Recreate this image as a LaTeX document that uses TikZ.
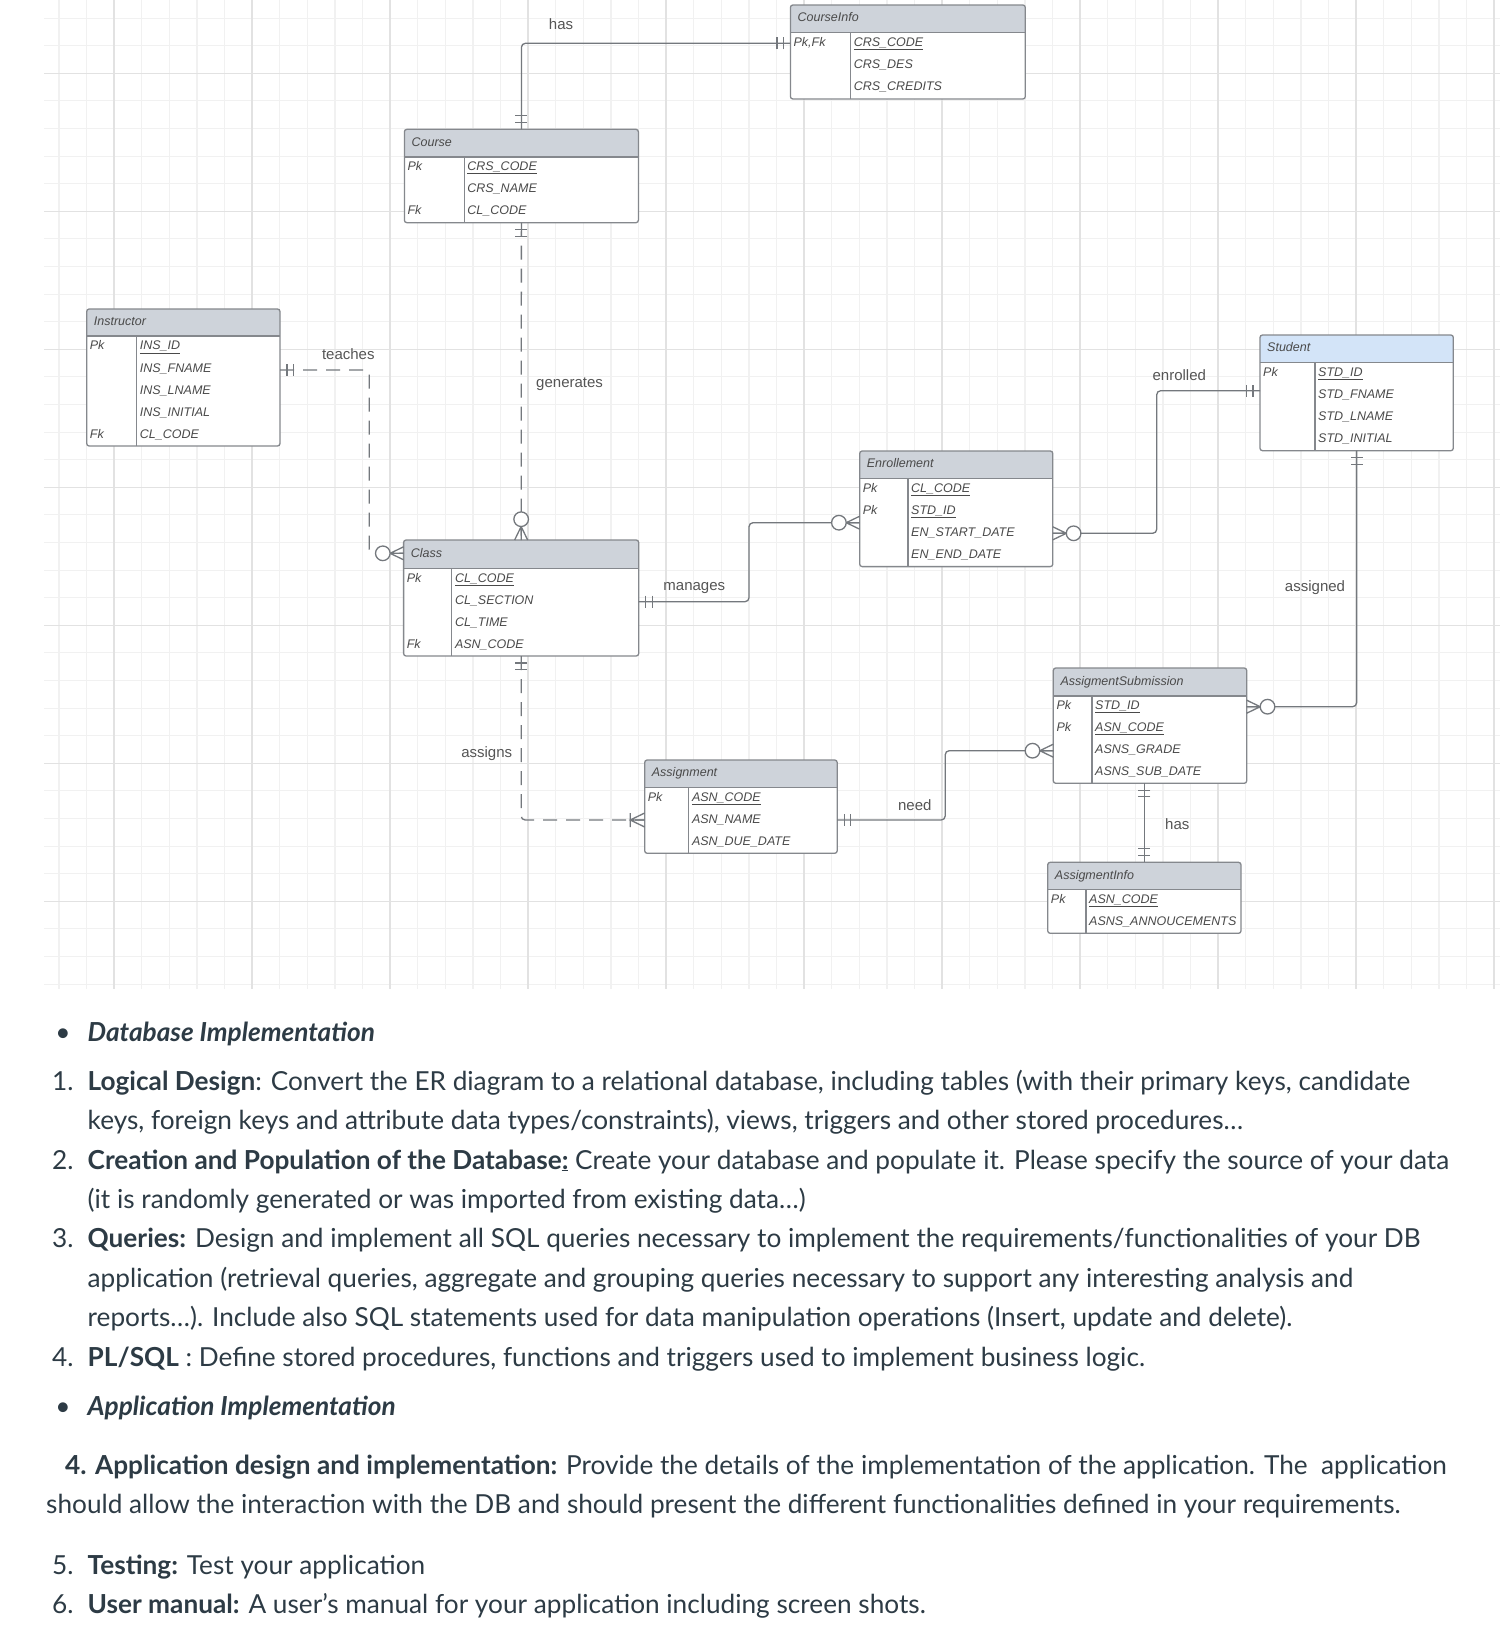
\documentclass[tikz,border=0pt]{standalone}
\usepackage{fontspec}
\setmainfont{Lato}
\newfontfamily\erfont{Liberation Sans}
\usetikzlibrary{fit}

\definecolor{gridlight}{HTML}{F1F1F1}
\definecolor{griddark}{HTML}{E2E2E2}
\definecolor{boxgray}{HTML}{85888D}
\definecolor{hdrgray}{HTML}{CED3DA}
\definecolor{hdrblue}{HTML}{D3E4F8}
\definecolor{ertext}{HTML}{4A4A4A}
\definecolor{linegray}{HTML}{74787D}
\definecolor{labelgray}{HTML}{555555}
\definecolor{txtcol}{HTML}{2D3B45}

\tikzset{
  gridthin/.style={draw=gridlight, line width=1.1pt},
  gridthick/.style={draw=griddark, line width=1.5pt},
  erbody/.style={fill=white, rounded corners=2.5pt, inner sep=0pt, outer sep=0pt},
  erline/.style={draw=boxgray, line width=1.3pt},
  ertitle/.style={anchor=base west, inner sep=0pt, text=ertext, font=\erfont\itshape\fontsize{12.5}{14}\selectfont},
  erkey/.style={ertitle},
  erattr/.style={ertitle},
  rel/.style={draw=linegray, line width=1.3pt, rounded corners=4pt},
  reldash/.style={rel, dash pattern=on 14pt off 9pt},
  rellabel/.style={inner sep=0pt, text=labelgray, font=\erfont\fontsize{15}{18}\selectfont},
  txt/.style={anchor=base west, inner sep=0pt, text=txtcol, font=\fontsize{26.2}{39}\selectfont},
  erone/.pic={\draw[solid, draw=linegray, line width=1.3pt]
    (7,-6) -- (7,6) (13.5,-6) -- (13.5,6);},
  erzeromany/.pic={\draw[solid, draw=linegray, line width=1.3pt]
    (0,-6.5) -- (13.5,0) -- (0,6.5) (0,0) -- (13.5,0);
    \draw[solid, draw=linegray, fill=white, line width=1.3pt] (20.8,0) circle (7.3);},
  eronemany/.pic={\draw[solid, draw=linegray, line width=1.3pt]
    (0,-7) -- (14.5,0) -- (0,7) (0,0) -- (14.5,0) (14.5,-7) -- (14.5,7);}
}

% entity frame: name, left, top, right, bottom, header line, key divider, title, header colour
\newcommand{\erentity}[9]{%
  \node[erbody, fit={(#2,#3) (#4,#5)}] (#1) {};
  \fill[#9, rounded corners=2.5pt] (#2,#3) rectangle (#4,#6);
  \fill[#9] (#2,#6-4) rectangle (#4,#6);
  \draw[erline, rounded corners=2.5pt] (#1.north west) rectangle (#1.south east);
  \draw[erline, line width=1.6pt] (#1.west |- 0,#6) -- (#1.east |- 0,#6);
  \draw[erline] (#7,#6) -- (#7,#5);
  \node[ertitle] (#1-title) at (#2+7, {(#3+#6)/2+3.3}) {#8};
}
% entity rows: name, left, key divider, header line, key/attribute list
\newcommand{\errows}[5]{%
  \foreach \k/\a [count=\i] in {#5} {
    \node[erkey] (#1-k\i) at (#2+3, #4+13.9+22.1*\i-22.1) {\k};
    \node[erattr] (#1-a\i) at (#3+3, #4+13.9+22.1*\i-22.1) {\a};
  }
}

\begin{document}
\begin{tikzpicture}[x=1pt, y=-1pt]
  \useasboundingbox (0,0) rectangle (1500,1630);
  \fill[white] (0,0) rectangle (1500,1630);

  % Background grid
  \foreach \x in {59,86.6,...,1500}
    \draw[gridthin] (\x,0) -- (\x,988.7);
  \foreach \y in {18.1,45.7,...,988}
    \draw[gridthin] (44,\y) -- (1500,\y);
  \foreach \x in {114.2,252.2,...,1500}
    \draw[gridthick] (\x,0) -- (\x,988.7);
  \foreach \y in {73.3,211.3,...,988}
    \draw[gridthick] (44,\y) -- (1500,\y);

  % Entities
  \erentity{cinfo}{790.4}{5}{1025.3}{99}{32.3}{850.6}{CourseInfo}{hdrgray}
  \errows{cinfo}{790.4}{850.6}{32.3}{{Pk,Fk}/\underline{CRS\_CODE}, /CRS\_DES, /CRS\_CREDITS}

  \erentity{course}{404.4}{129.3}{638.4}{222.7}{156.7}{464.2}{Course}{hdrgray}
  \errows{course}{404.4}{464.2}{156.7}{Pk/\underline{CRS\_CODE}, /CRS\_NAME, Fk/CL\_CODE}

  \erentity{instr}{86.7}{309}{280}{446}{336}{136.7}{Instructor}{hdrgray}
  \errows{instr}{86.7}{136.7}{336}{Pk/\underline{INS\_ID}, /INS\_FNAME, /INS\_LNAME, /INS\_INITIAL, Fk/CL\_CODE}

  \erentity{class}{403.6}{540}{638.7}{656}{568.3}{451.8}{Class}{hdrgray}
  \errows{class}{403.6}{451.8}{568.3}{Pk/\underline{CL\_CODE}, /CL\_SECTION, /CL\_TIME, Fk/ASN\_CODE}

  \erentity{enrol}{859.7}{451}{1052.8}{566.6}{478.3}{908}{Enrollement}{hdrgray}
  \errows{enrol}{859.7}{908}{478.3}{Pk/\underline{CL\_CODE}, Pk/\underline{STD\_ID}, /EN\_START\_DATE, /EN\_END\_DATE}

  \erentity{student}{1260}{335}{1453.3}{450.7}{362.3}{1315}{Student}{hdrblue}
  \errows{student}{1260}{1315}{362.3}{Pk/\underline{STD\_ID}, /STD\_FNAME, /STD\_LNAME, /STD\_INITIAL}

  \erentity{assign}{644.7}{760}{837.2}{853.3}{787.3}{688.8}{Assignment}{hdrgray}
  \errows{assign}{644.7}{688.8}{787.3}{Pk/\underline{ASN\_CODE}, /ASN\_NAME, /ASN\_DUE\_DATE}

  \erentity{asub}{1053.3}{668}{1246.7}{783.3}{695.7}{1092}{AssigmentSubmission}{hdrgray}
  \errows{asub}{1053.3}{1092}{695.7}{Pk/\underline{STD\_ID}, Pk/\underline{ASN\_CODE}, /ASNS\_GRADE, /ASNS\_SUB\_DATE}

  \erentity{ainfo}{1047.7}{862.3}{1241}{933.3}{889.3}{1086}{AssigmentInfo}{hdrgray}
  \errows{ainfo}{1047.7}{1086}{889.3}{Pk/\underline{ASN\_CODE}, /ASNS\_ANNOUCEMENTS}

  % Relationships
  \draw[rel] (cinfo.west |- 0,43.3) -| (course.north);
  \draw[reldash] (instr.east |- 0,370) -| (369.3,553.3) -- (class.west |- 0,553.3);
  \draw[reldash] (course.south) -- (class.north);
  \draw[reldash] (class.south) |- (assign.west |- 0,820);
  \draw[rel] (class.east |- 0,601.7) -| (749,522.7) -- (enrol.west |- 0,522.7);
  \draw[rel] (enrol.east |- 0,533.3) -| (1156.7,390.7) -- (student.west |- 0,390.7);
  \draw[rel] (student.south) |- (asub.east |- 0,706.7);
  \draw[rel] (assign.east |- 0,820) -| (945.2,750.7) -- (asub.west |- 0,750.7);
  \draw[rel] (ainfo.north) -- (ainfo.north |- asub.south);

  % Cardinalities
  \pic[rotate=180] at (cinfo.west |- 0,43.3) {erone};
  \pic[rotate=90] at (course.north) {erone};
  \pic at (instr.east |- 0,370) {erone};
  \pic[rotate=180] at (class.west |- 0,553.3) {erzeromany};
  \pic[rotate=-90] at (course.south) {erone};
  \pic[rotate=90] at (class.north) {erzeromany};
  \pic[rotate=-90] at (class.south) {erone};
  \pic[rotate=180] at (assign.west |- 0,820) {eronemany};
  \pic at (class.east |- 0,601.7) {erone};
  \pic[rotate=180] at (enrol.west |- 0,522.7) {erzeromany};
  \pic at (enrol.east |- 0,533.3) {erzeromany};
  \pic[rotate=180] at (student.west |- 0,390.7) {erone};
  \pic[rotate=-90] at (student.south) {erone};
  \pic at (asub.east |- 0,706.7) {erzeromany};
  \pic at (assign.east |- 0,820) {erone};
  \pic[rotate=180] at (asub.west |- 0,750.7) {erzeromany};
  \pic[rotate=-90] at (ainfo.north |- asub.south) {erone};
  \pic[rotate=90] at (ainfo.north) {erone};

  % Relationship names
  \node[rellabel] (lhas) at (561,24.3) {has};
  \node[rellabel] (lteaches) at (348.3,354.3) {teaches};
  \node[rellabel] (lgenerates) at (569.6,384.5) {generates};
  \node[rellabel] (lmanages) at (694.3,587.7) {manages};
  \node[rellabel] (lenrolled) at (1179.3,375) {enrolled};
  \node[rellabel] (lassigned) at (1315,587.2) {assigned};
  \node[rellabel] (lassigns) at (486.7,754) {assigns};
  \node[rellabel] (lneed) at (914.8,805) {need};
  \node[rellabel] (lhastwo) at (1177.3,824) {has};

  % Project requirements
  \node[txt, anchor=base] (bul1) at (63,1041.1) {\textbullet};
  \node[txt] (sec1) at (87.5,1041.1) {\textbf{\textit{Database Implementation}}};
  \node[txt] (n1) at (52,1090.1) {1.};
  \node[txt] (l1) at (87.5,1090.1) {\textbf{Logical Design}: Convert the ER diagram to a relational database, including tables (with their primary keys, candidate};
  \node[txt] (l2) at (87.5,1129.8) {keys, foreign keys and attribute data types/constraints), views, triggers and other stored procedures…};
  \node[txt] (n2) at (52,1169) {2.};
  \node[txt] (l3) at (87.5,1169) {\textbf{Creation and Population of the Database\underline{:}} Create your database and populate it. Please specify the source of your data};
  \node[txt] (l4) at (87.5,1208.4) {(it is randomly generated or was imported from existing data…)};
  \node[txt] (n3) at (52,1247.3) {3.};
  \node[txt] (l5) at (87.5,1247.3) {\textbf{Queries:} Design and implement all SQL queries necessary to implement the requirements/functionalities of your DB};
  \node[txt] (l6) at (87.5,1287) {application (retrieval queries, aggregate and grouping queries necessary to support any interesting analysis and};
  \node[txt] (l7) at (87.5,1326.8) {reports…). Include also SQL statements used for data manipulation operations (Insert, update and delete).};
  \node[txt] (n4) at (52,1366.6) {4.};
  \node[txt] (l8) at (87.5,1366.6) {\textbf{PL/SQL} : Define stored procedures, functions and triggers used to implement business logic.};
  \node[txt, anchor=base] (bul2) at (63,1415.6) {\textbullet};
  \node[txt] (sec2) at (87.5,1415.6) {\textbf{\textit{Application Implementation}}};
  \node[txt] (l9) at (65,1474.8) {\textbf{4. Application design and implementation:} Provide the details of the implementation of the application. The\ \ application};
  \node[txt] (l10) at (46,1513.7) {should allow the interaction with the DB and should present the different functionalities defined in your requirements.};
  \node[txt] (n5) at (52,1574.1) {5.};
  \node[txt] (l11) at (87.5,1574.1) {\textbf{Testing:} Test your application};
  \node[txt] (n6) at (52,1613.1) {6.};
  \node[txt] (l12) at (87.5,1613.1) {\textbf{User manual:} A user's manual for your application including screen shots.};
\end{tikzpicture}
\end{document}
